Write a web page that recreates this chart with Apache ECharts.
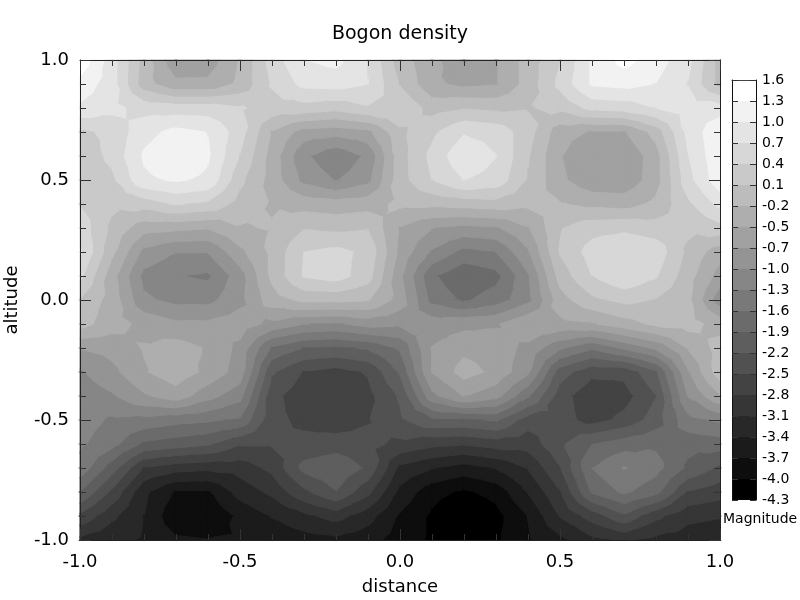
<!DOCTYPE html>
<html>
<head>
<meta charset="utf-8">
<style>html,body{margin:0;background:#fff}#main{width:800px;height:600px}</style>
<script src="https://cdn.jsdelivr.net/npm/echarts@6/dist/echarts.min.js"></script>
</head>
<body>
<div id="main"></div>
<script>
var font = 'DejaVu Sans';
var distance = [-1,-0.9,-0.8,-0.7,-0.6,-0.5,-0.4,-0.3,-0.2,-0.1,0,0.1,0.2,0.3,0.4,0.5,0.6,0.7,0.8,0.9,1];
var altitude = [1,0.9,0.8,0.7,0.6,0.5,0.4,0.3,0.2,0.1,0,-0.1,-0.2,-0.3,-0.4,-0.5,-0.6,-0.7,-0.8,-0.9,-1];

// density, one list per distance, from altitude 1 down to -1
var density = [
  [1.5,1.2,.95,.35,.2,.2,.4,.6,.75,.5,.1,-.05,-.75,-1.1,-1.2,-1.2,-1.3,-1.45,-1.95,-2.6,-3.2],
  [.85,.85,.8,.5,.5,.35,.2,.05,-.1,-.35,-.3,-.35,-.65,-.85,-1.1,-1.4,-1.55,-2.1,-2.6,-3.05,-3.35],
  [0,-.05,.6,.9,1.05,.95,.25,-.35,-.85,-1.15,-1.0,-.55,-.45,-.5,-.8,-1.45,-2.0,-2.85,-3.35,-3.42,-3.45],
  [-.7,-.4,.55,1.1,1.25,1.05,.45,-.4,-1.05,-1.33,-1.15,-.7,-.35,-.3,-.6,-1.55,-2.1,-3.0,-3.75,-3.95,-3.66],
  [-.65,-.4,.55,1.0,1.05,.95,.35,-.45,-1.05,-1.4,-1.15,-.7,-.5,-.55,-.95,-1.6,-2.2,-3.05,-3.75,-3.95,-3.7],
  [-.15,-.1,.45,.55,.4,.2,0,-.2,-.55,-.9,-.85,-.6,-.85,-.9,-1.25,-1.7,-2.5,-3.0,-3.3,-3.65,-3.68],
  [.55,.45,.3,-.2,-.3,-.3,-.2,-.15,-.1,-.1,-.3,-.85,-1.7,-2.2,-2.45,-2.45,-2.5,-2.75,-3.05,-3.4,-3.65],
  [1.0,.8,.3,-.6,-1.0,-.85,-.3,.1,.42,.45,-.1,-1.05,-1.95,-2.55,-2.7,-2.6,-2.45,-2.15,-2.6,-3.2,-3.55],
  [1.1,.83,.22,-.65,-1.3,-1.08,-.35,.05,.5,.55,-.1,-1.1,-2.0,-2.65,-2.8,-2.7,-2.4,-2.0,-2.25,-3.0,-3.5],
  [.7,.72,.38,-.55,-1.0,-.85,-.3,.1,.35,.25,-.15,-.95,-1.9,-2.5,-2.62,-2.55,-2.45,-2.3,-2.75,-3.3,-3.6],
  [-.05,.1,.4,.05,0,0,-.1,-.5,-.55,-.7,-.6,-1.0,-1.6,-1.9,-2.2,-2.3,-2.6,-3.2,-3.5,-3.75,-3.85],
  [-.35,-.4,0,.35,.5,.42,-.1,-.75,-1.1,-1.6,-1.45,-.9,-.75,-.75,-1.15,-2.0,-2.75,-3.4,-3.9,-4.05,-4.05],
  [-.8,-.55,.1,.68,.95,.72,-.05,-.85,-1.45,-1.9,-1.7,-.85,-.55,-.35,-.75,-2.0,-2.8,-3.55,-4.05,-4.3,-4.3],
  [-.5,-.5,.05,.6,.72,.6,0,-.8,-1.35,-1.75,-1.5,-.8,-.6,-.55,-.95,-1.9,-2.7,-3.4,-3.9,-4.1,-4.05],
  [-.05,-.05,.1,.25,.15,.1,-.1,-.5,-.8,-1.1,-1.15,-.5,-.85,-1.0,-1.6,-2.4,-2.7,-3.1,-3.4,-3.7,-3.75],
  [.4,.5,.2,-.35,-.45,-.4,-.15,.1,.15,-.05,-.3,-.55,-1.3,-2.1,-2.4,-2.4,-2.3,-2.55,-2.85,-3.1,-3.5],
  [1.05,1.05,.5,-.5,-.75,-.7,-.25,.3,.55,.42,.05,-.5,-1.6,-2.45,-2.75,-2.65,-1.95,-1.65,-1.9,-2.7,-3.2],
  [1.4,1.1,.55,-.5,-.74,-.7,-.3,.35,.7,.68,.2,-.3,-1.3,-2.45,-2.65,-2.45,-1.8,-1.33,-1.6,-2.3,-3.1],
  [1.15,1.0,.72,-.05,-.3,-.3,-.1,.25,.6,.45,.1,-.1,-1.0,-2.0,-2.25,-2.1,-1.7,-1.55,-1.85,-2.75,-3.2],
  [.8,.7,.85,.8,.7,.6,.35,.2,.05,-.05,-.1,-.05,-.45,-.8,-1.05,-1.45,-1.85,-2.0,-2.55,-3.05,-3.25],
  [0,0,.85,1.25,1.25,1.2,.8,.3,-.35,-.6,-.95,-.3,-.05,0,-.5,-1.3,-1.8,-2.3,-2.7,-3.1,-3.3]
];

// contour levels, low to high, and the labels on the colour bar, top to bottom
var levels = [-4.3,-4.0,-3.71,-3.42,-3.12,-2.83,-2.53,-2.24,-1.94,-1.65,-1.35,-1.06,-0.76,-0.47,-0.17,0.125,0.42,0.715,1.01,1.3,1.6];
var barLabels = ['1.6','1.3','1.0','0.7','0.4','0.1','-0.2','-0.5','-0.7','-1.0','-1.3','-1.6','-1.9','-2.2','-2.5','-2.8','-3.1','-3.4','-3.7','-4.0','-4.3'];

function bandColor(k) {
  var g = Math.round(255 * k / 19);
  return 'rgb(' + g + ',' + g + ',' + g + ')';
}

// keep the part of a polygon (points are [x, y, value]) on one side of a level
function clip(poly, level, keepAbove) {
  var out = [];
  for (var i = 0; i < poly.length; i++) {
    var a = poly[i], b = poly[(i + 1) % poly.length];
    var ain = keepAbove ? a[2] >= level : a[2] <= level;
    var bin = keepAbove ? b[2] >= level : b[2] <= level;
    if (ain) out.push(a);
    if (ain !== bin) {
      var t = (level - a[2]) / (b[2] - a[2]);
      out.push([a[0] + t * (b[0] - a[0]), a[1] + t * (b[1] - a[1]), level]);
    }
  }
  return out;
}

function renderCell(params, api) {
  var i = api.value(2), j = api.value(3);
  function corner(ci, cj) {
    var p = api.coord([distance[ci], altitude[cj]]);
    return [p[0], p[1], density[ci][cj]];
  }
  var c = [corner(i, j), corner(i + 1, j), corner(i + 1, j + 1), corner(i, j + 1)];
  var mid = [(c[0][0] + c[2][0]) / 2, (c[0][1] + c[2][1]) / 2, (c[0][2] + c[1][2] + c[2][2] + c[3][2]) / 4];
  var children = [];
  for (var t = 0; t < 4; t++) {
    var tri = [c[t], c[(t + 1) % 4], mid];
    for (var k = 0; k < 20; k++) {
      var poly = tri;
      if (k > 0) poly = clip(poly, levels[k], true);
      if (k < 19 && poly.length) poly = clip(poly, levels[k + 1], false);
      if (poly.length < 3) continue;
      var col = bandColor(k);
      children.push({
        type: 'polygon',
        shape: { points: poly.map(function (p) { return [p[0], p[1]]; }) },
        style: { fill: col, stroke: col, lineWidth: 1.2 }
      });
    }
  }
  return { type: 'group', children: children };
}

function renderBand(params, api) {
  var k = api.value(0);
  var a = api.coord([0, k]), b = api.coord([1, k + 1]);
  return { type: 'rect', shape: { x: a[0], y: b[1], width: b[0] - a[0], height: a[1] - b[1] }, style: { fill: bandColor(k) } };
}

var cells = [];
for (var i = 0; i < distance.length - 1; i++) {
  for (var j = 0; j < altitude.length - 1; j++) {
    cells.push([distance[i], altitude[j], i, j]);
  }
}
var bands = [];
for (var b = 0; b < 20; b++) bands.push([b]);

function frameAxis(base) {
  return Object.assign({
    type: 'value',
    min: -1,
    max: 1,
    interval: 0.5,
    z: 10,
    splitLine: { show: false },
    axisLine: { show: true, onZero: false, lineStyle: { color: '#222', width: 1 } },
    axisTick: { show: true, inside: true, length: 11, lineStyle: { color: '#333', width: 1 } },
    minorTick: { show: true, splitNumber: 5, length: 6, lineStyle: { color: '#333', width: 1 } },
    axisLabel: {
      show: true, fontFamily: font, fontSize: 18, color: '#000', margin: 11,
      formatter: function (v) { return v.toFixed(1); }
    }
  }, base);
}
var noLabel = { show: false };
var xLabel = Object.assign({}, frameAxis({}).axisLabel, { margin: 13 });

var myChart = echarts.init(document.getElementById('main'));
myChart.setOption({
  animation: false,
  title: {
    text: 'Bogon density', left: 395, top: 20, textAlign: 'center',
    textStyle: { fontFamily: font, fontSize: 19, fontWeight: 'normal', color: '#000' }
  },
  graphic: [{
    type: 'text', left: 723, top: 512,
    style: { text: 'Magnitude', fontFamily: font, fontSize: 14, fill: '#000' }
  }],
  grid: [
    { left: 80, top: 60, width: 640, height: 480, outerBoundsMode: 'none' },
    { left: 732, top: 80, width: 24, height: 420, outerBoundsMode: 'none' }
  ],
  xAxis: [
    frameAxis({ gridIndex: 0, position: 'bottom', name: 'distance', nameLocation: 'middle', nameGap: 38, axisLabel: xLabel,
      nameTextStyle: { fontFamily: font, fontSize: 18, color: '#000' } }),
    frameAxis({ gridIndex: 0, position: 'top', axisLabel: noLabel }),
    {
      gridIndex: 1, type: 'value', min: 0, max: 1, position: 'top', z: 10,
      axisLine: { show: true, onZero: false, lineStyle: { color: '#444' } },
      axisTick: { show: false }, axisLabel: { show: false }, splitLine: { show: false }
    }
  ],
  yAxis: [
    frameAxis({ gridIndex: 0, position: 'left', name: 'altitude', nameLocation: 'middle', nameGap: 59,
      nameTextStyle: { fontFamily: font, fontSize: 18, color: '#000' } }),
    frameAxis({ gridIndex: 0, position: 'right', axisLabel: noLabel }),
    {
      gridIndex: 1, type: 'value', min: 0, max: 20, interval: 1, position: 'right', z: 10,
      axisLine: { show: true, onZero: false, lineStyle: { color: '#111' } },
      axisTick: { show: true, inside: true, length: 6, lineStyle: { color: '#333' } },
      axisLabel: {
        fontFamily: font, fontSize: 14, color: '#000', margin: 6,
        formatter: function (v) { return barLabels[20 - v]; }
      },
      splitLine: { show: false }
    },
    {
      gridIndex: 1, type: 'value', min: 0, max: 20, interval: 1, position: 'left', z: 10,
      axisLine: { show: true, onZero: false, lineStyle: { color: '#111' } },
      axisTick: { show: true, inside: true, length: 6, lineStyle: { color: '#333' } },
      axisLabel: { show: false }, splitLine: { show: false }
    }
  ],
  series: [
    { type: 'custom', xAxisIndex: 0, yAxisIndex: 0, data: cells, renderItem: renderCell, silent: true, z: 1, encode: { x: 0, y: 1 } },
    { type: 'custom', xAxisIndex: 2, yAxisIndex: 2, data: bands, renderItem: renderBand, silent: true, z: 1 }
  ]
});
</script>
</body>
</html>
